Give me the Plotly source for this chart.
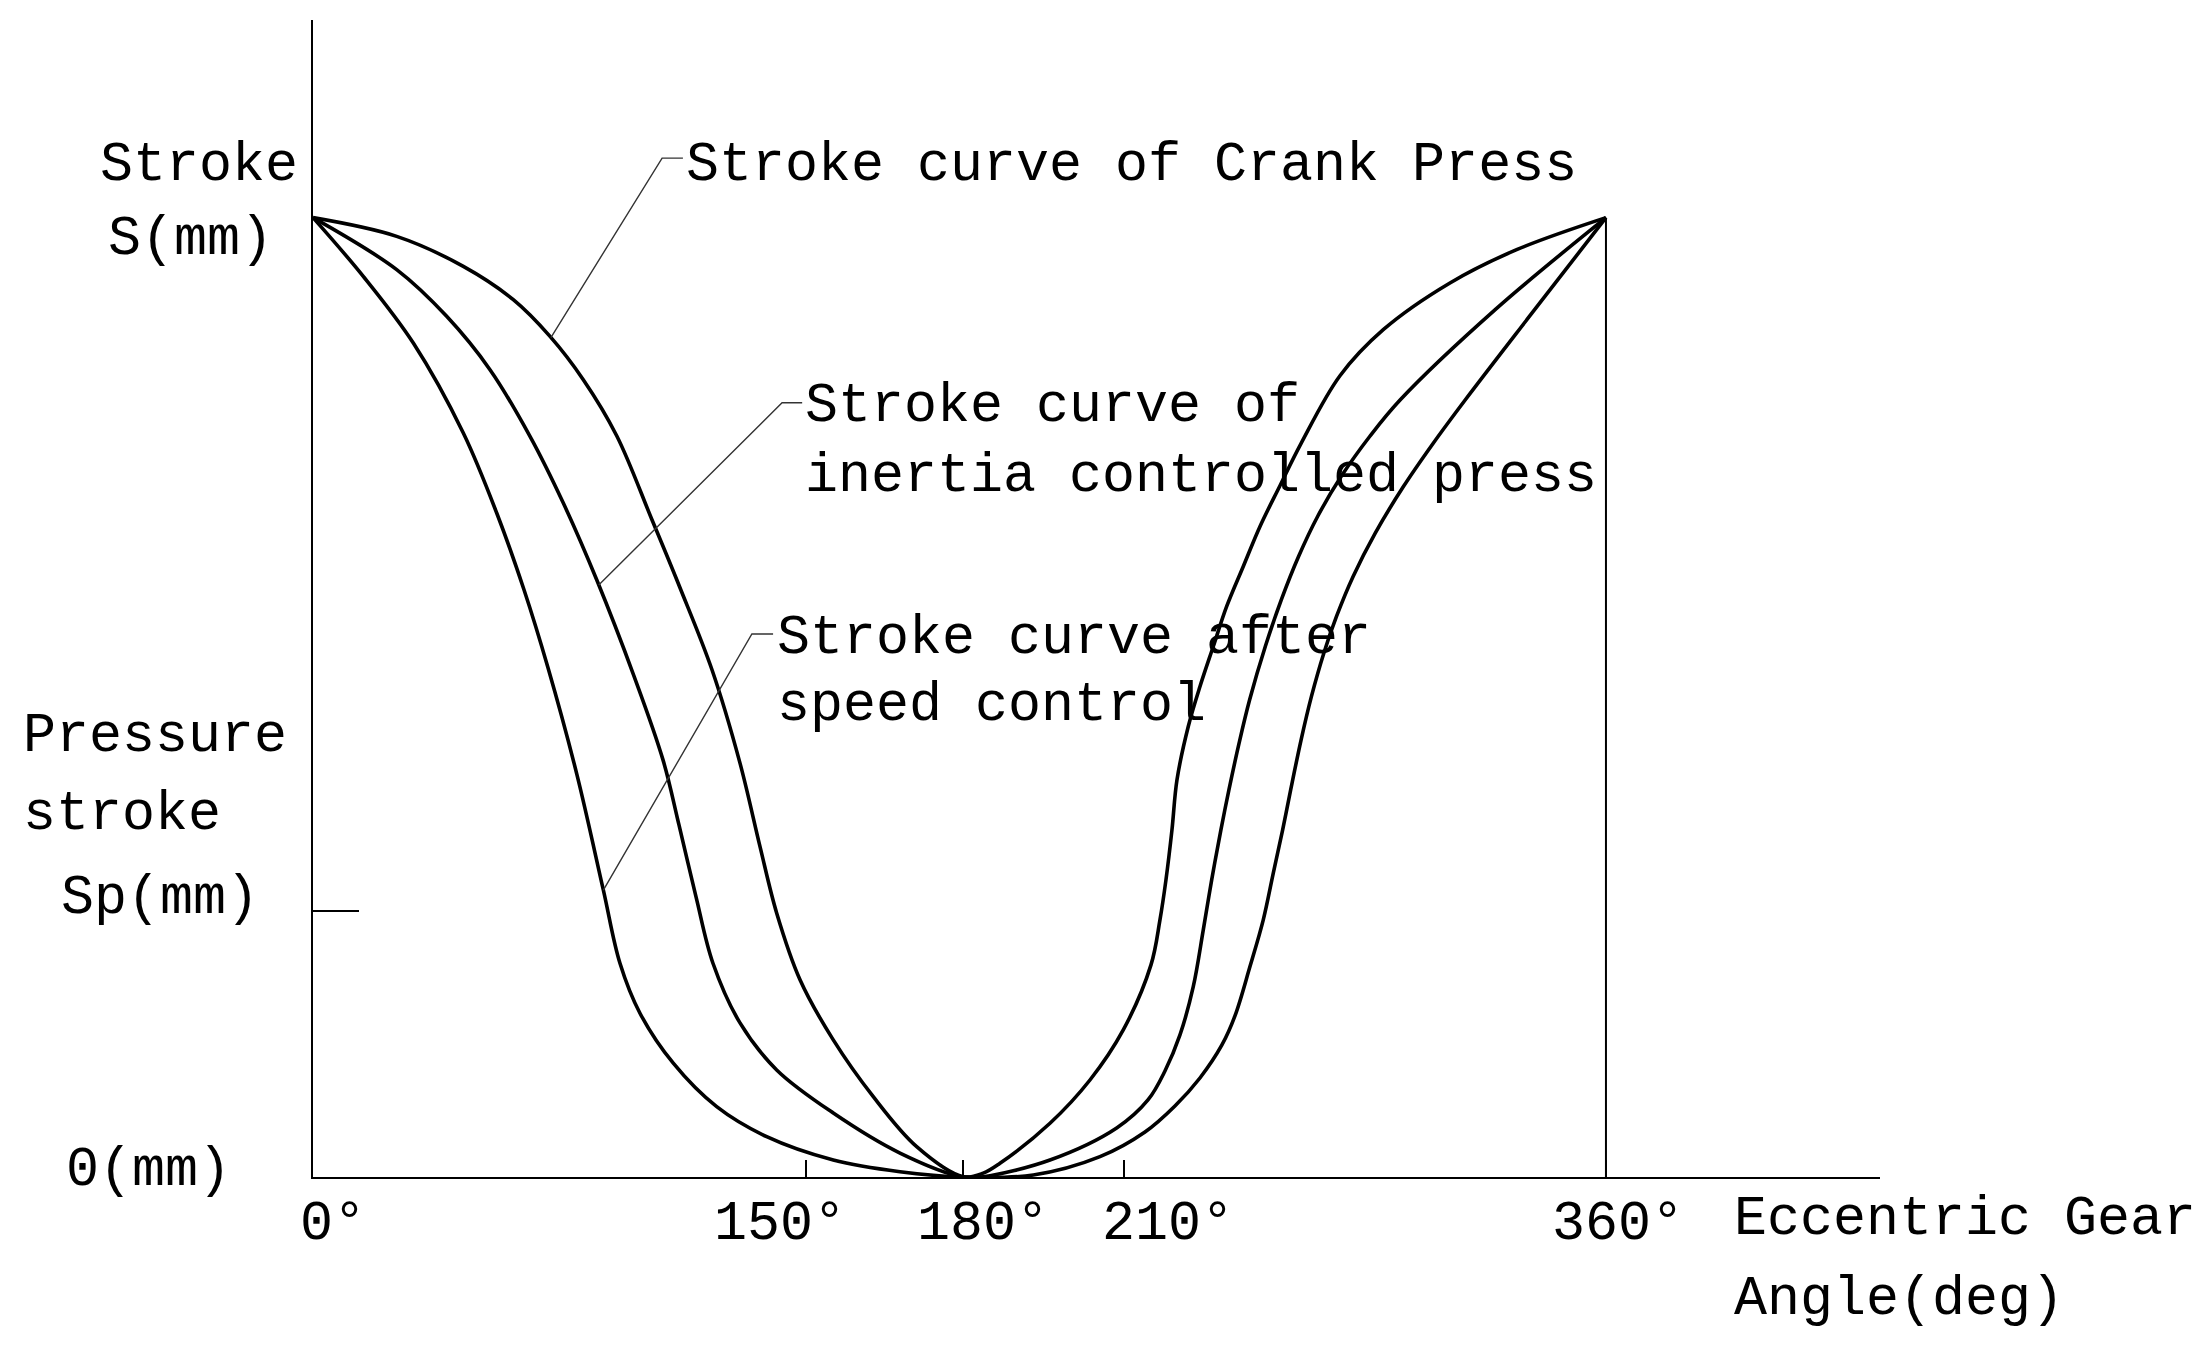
import numpy as np
import plotly.graph_objects as go

# ---------------- data (degrees / stroke in % of S) ----------------
S_LEVEL = 100.0
SP_LEVEL = 27.7

crank_x = [0, 23.3, 41.85, 55.77, 65.99, 75.26, 84.56, 94.38, 102.18, 111.09, 118.89, 124.46,
           129.11, 135.63, 144.86, 156.0, 168.08, 181.05, 186.6, 191.27, 205.2, 216.33, 225.6,
           233.32, 235.82, 237.49, 239.16, 240.56, 243.7, 246.96, 250.66, 254.39, 259.01,
           263.67, 269.23, 275.12, 285.94, 297.99, 316.56, 335.13, 360]
crank_y = [100, 98.05, 94.92, 91.45, 87.62, 83.11, 77.27, 68.51, 61.42, 52.87, 43.14, 34.44,
           27.5, 20.54, 14.29, 8.37, 3.16, 0.03, 0.4, 1.43, 5.6, 10.11, 15.33,
           22.11, 26.8, 30.97, 36.18, 41.4, 46.96, 51.13, 55.3, 59.47, 63.64,
           67.81, 72.06, 76.47, 83.52, 88.32, 93.19, 96.66, 100]

inertia_x = [0, 23.3, 37.22, 49.28, 60.42, 69.69, 78.99, 89.35, 97.45, 101.9, 106.63, 111.36,
             118.89, 129.1, 144.86, 163.43, 181.0, 186.62, 205.2, 223.77, 232.48, 237.21,
             241.39, 245.09, 247.88, 250.22, 252.79, 255.02, 257.85, 260.79, 265.15, 269.62,
             274.41, 279.71, 286.26, 294.27, 302.67, 329.16, 360]
inertia_y = [100, 94.58, 89.71, 84.15, 77.2, 70.25, 62.25, 52.24, 43.48, 36.7, 29.23, 22.28,
             16.06, 11.16, 6.67, 2.5, 0, 0.03, 1.77, 5.11, 8.03, 11.05,
             14.81, 19.84, 25.76, 30.97, 36.18, 40.35, 45.22, 49.74, 55.29, 60.18,
             64.68, 68.85, 73.01, 77.21, 80.99, 90.41, 100]

speed_x = [0, 14.0, 27.93, 41.85, 51.15, 58.75, 65.43, 73.5, 80.83, 85.47, 91.04, 100.31,
           112.4, 126.32, 144.86, 163.43, 181.0, 200.55, 219.12, 231.65, 239.99, 246.95,
           253.07, 256.7, 260.88, 264.58, 267.37, 269.98, 272.21, 275.12, 277.98, 281.44,
           284.97, 289.6, 295.76, 303.65, 311.96, 320.8, 339.05, 360]
speed_y = [100, 93.88, 86.93, 77.55, 69.21, 61.21, 53.08, 41.92, 29.93, 22.28, 17.07, 11.86,
           7.33, 4.2, 1.77, 0.55, 0, 0.21, 2.12, 4.69, 7.4, 10.32,
           13.76, 16.79, 21.93, 26.8, 31.67, 36.18, 40.35, 45.57, 50.07, 54.6,
           58.43, 62.6, 67.12, 71.99, 76.51, 80.99, 89.88, 100]

tick_pos = [0, 137.3, 181.0, 225.8, 360]
tick_labels = ["0°", "150°", "180°", "210°", "360°"]

curve_names = ["Stroke curve of Crank Press",
               "Stroke curve of<br>inertia controlled press",
               "Stroke curve after<br>speed control"]
leader_levels = [87.5, 61.7, 29.9]   # stroke level where each leader touches its curve

# ---------------- styling ----------------
FONT = "Liberation Mono"
FS = 55
X_MAX = 436.3
Y_MAX = 120.6
PX_PER_DEG = 3.5917

fig = go.Figure()
for xs, ys in [(crank_x, crank_y), (inertia_x, inertia_y), (speed_x, speed_y)]:
    fig.add_trace(go.Scatter(x=xs, y=ys, mode="lines",
                             line=dict(color="black", width=3.6, shape="spline", smoothing=1.0),
                             showlegend=False, hoverinfo="skip"))

# 360 deg vertical line (from bottom to S level)
fig.add_trace(go.Scatter(x=[tick_pos[-1], tick_pos[-1]], y=[0, S_LEVEL], mode="lines",
                         line=dict(color="black", width=2), showlegend=False, hoverinfo="skip"))


def left_branch_x(xs, ys, level):
    xs = np.asarray(xs, float)
    ys = np.asarray(ys, float)
    i = int(np.argmin(ys))
    return float(np.interp(level, ys[:i + 1][::-1], xs[:i + 1][::-1]))


# label anchor points (text left edge, text centre y) in data units
label_anchor = [(103.3, 105.4), (136.4, 76.7), (128.6, 52.6)]
leader_elbow = [(97.2, 106.2), (130.6, 80.7), (122.2, 56.6)]
leader_start = [(103.0, 106.2), (136.2, 80.7), (128.1, 56.6)]

for k, (xs, ys) in enumerate([(crank_x, crank_y), (inertia_x, inertia_y), (speed_x, speed_y)]):
    tip_x = left_branch_x(xs, ys, leader_levels[k])
    fig.add_trace(go.Scatter(x=[leader_start[k][0], leader_elbow[k][0], tip_x],
                             y=[leader_start[k][1], leader_elbow[k][1], leader_levels[k]],
                             mode="lines", line=dict(color="#333333", width=1.4),
                             showlegend=False, hoverinfo="skip"))

annots = []
line_gap = [0, 7.3, 7.0]
for k, name in enumerate(curve_names):
    lines = name.split("<br>")
    x0, yc = label_anchor[k]
    if len(lines) == 1:
        ys_ = [yc]
    else:
        ys_ = [yc + line_gap[k] / 2, yc - line_gap[k] / 2]
    for t, yy in zip(lines, ys_):
        annots.append(dict(x=x0, y=yy, text=t, xanchor="left", yanchor="middle"))

annots += [
    dict(x=-31.7, y=105.4, text="Stroke", xanchor="center", yanchor="middle"),
    dict(x=-34.2, y=97.7, text="S(mm)", xanchor="center", yanchor="middle"),
    dict(x=-81.3, y=45.9, text="Pressure", xanchor="left", yanchor="middle"),
    dict(x=-81.3, y=37.8, text="stroke", xanchor="left", yanchor="middle"),
    dict(x=-42.5, y=29.0, text="Sp(mm)", xanchor="center", yanchor="middle"),
    dict(x=-45.8, y=0.7, text="0(mm)", xanchor="center", yanchor="middle"),
    dict(x=395.1, y=-4.4, text="Eccentric Gear", xanchor="left", yanchor="middle"),
    dict(x=395.1, y=-12.75, text="Angle(deg)", xanchor="left", yanchor="middle"),
]

# x tick labels (hand-placed in the original drawing, slightly off their ticks)
label_offset_px = [20, -26, 20, 44, 12]
for pos, lab, off in zip(tick_pos, tick_labels, label_offset_px):
    annots.append(dict(x=pos + off / PX_PER_DEG, y=-4.95, text=lab,
                       xanchor="center", yanchor="middle"))

for a in annots:
    # data units -> paper fractions so text outside the axes is still drawn
    a["x"] = a["x"] / X_MAX
    a["y"] = a["y"] / Y_MAX
    a.update(xref="paper", yref="paper", showarrow=False,
             font=dict(family=FONT, size=FS, color="black"))

# page body has an 8px margin: shrink the figure and shift the plot area accordingly
fig.update_layout(
    width=2202, height=1348,
    margin=dict(l=305, r=330, t=12, b=179),
    paper_bgcolor="white", plot_bgcolor="white",
    showlegend=False,
    annotations=annots,
    xaxis=dict(range=[0, X_MAX], showgrid=False, zeroline=False,
               showline=True, linecolor="black", linewidth=2,
               ticks="inside", ticklen=17, tickwidth=1.5, tickcolor="black",
               tickmode="array", tickvals=tick_pos, showticklabels=False),
    yaxis=dict(range=[0, Y_MAX], showgrid=False, zeroline=False,
               showline=True, linecolor="black", linewidth=2,
               ticks="inside", ticklen=46, tickwidth=1.5, tickcolor="black",
               tickmode="array", tickvals=[SP_LEVEL], showticklabels=False),
)

fig.write_html("out.html")
